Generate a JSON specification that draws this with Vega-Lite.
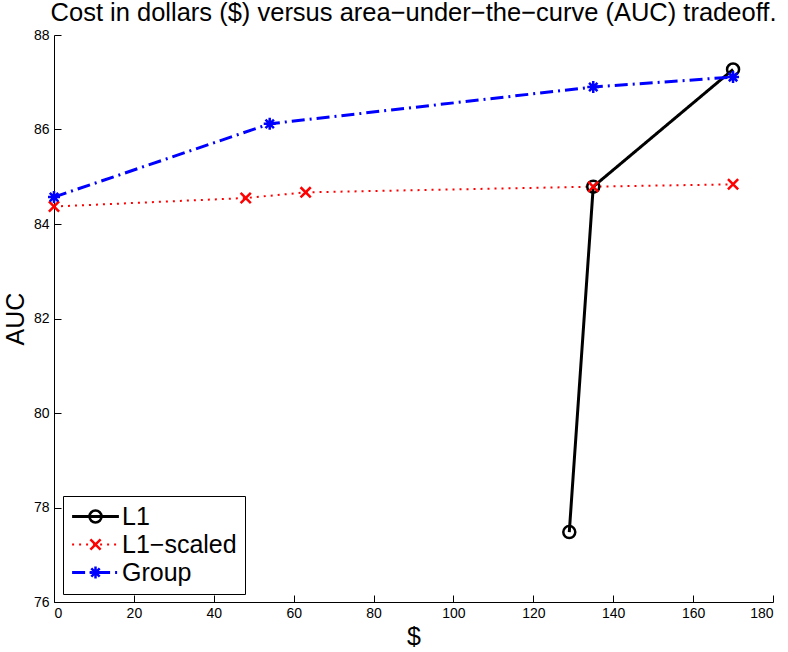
{
  "$schema": "https://vega.github.io/schema/vega-lite/v6.json",
  "width": 719,
  "height": 567,
  "autosize": "none",
  "padding": {"left": 54, "top": 35, "right": 15, "bottom": 50},
  "background": "white",
  "title": {
    "text": "Cost in dollars ($) versus area−under−the−curve (AUC) tradeoff.",
    "font": "Liberation Sans",
    "fontSize": 25.5,
    "fontWeight": "normal",
    "color": "black",
    "anchor": "middle",
    "offset": 2
  },
  "config": {
    "view": {"stroke": null},
    "axis": {
      "grid": false,
      "domainColor": "black",
      "tickColor": "black",
      "tickSize": -7,
      "labelColor": "black",
      "labelFont": "Liberation Sans",
      "labelFontSize": 14,
      "titleColor": "black",
      "titleFont": "Liberation Sans",
      "titleFontSize": 25,
      "titleFontWeight": "normal"
    },
    "legend": {
      "labelFont": "Liberation Sans",
      "labelFontSize": 25,
      "labelColor": "black"
    }
  },
  "data": {
    "values": [
      {"series": "L1", "cost": 129, "auc": 77.48},
      {"series": "L1", "cost": 135, "auc": 84.79},
      {"series": "L1", "cost": 170, "auc": 87.27},
      {"series": "L1−scaled", "cost": 0, "auc": 84.37},
      {"series": "L1−scaled", "cost": 48, "auc": 84.55},
      {"series": "L1−scaled", "cost": 63, "auc": 84.67},
      {"series": "L1−scaled", "cost": 135, "auc": 84.79},
      {"series": "L1−scaled", "cost": 170, "auc": 84.84},
      {"series": "Group", "cost": 0, "auc": 84.57},
      {"series": "Group", "cost": 54, "auc": 86.12},
      {"series": "Group", "cost": 135, "auc": 86.9},
      {"series": "Group", "cost": 170, "auc": 87.11}
    ]
  },
  "encoding": {
    "x": {
      "field": "cost",
      "type": "quantitative",
      "scale": {"domain": [0, 180], "nice": false, "zero": false},
      "axis": {"values": [0, 20, 40, 60, 80, 100, 120, 140, 160, 180], "title": "$", "labelPadding": 11, "titlePadding": 4}
    },
    "y": {
      "field": "auc",
      "type": "quantitative",
      "scale": {"domain": [76, 88], "nice": false, "zero": false},
      "axis": {"values": [76, 78, 80, 82, 84, 86, 88], "title": "AUC", "labelPadding": 12, "titlePadding": 5}
    }
  },
  "layer": [
    {
      "mark": {"type": "line"},
      "encoding": {
        "color": {
          "field": "series",
          "type": "nominal",
          "scale": {"domain": ["L1", "L1−scaled", "Group"], "range": ["#000000", "#ff0000", "#0000ff"]},
          "legend": {
            "orient": "none",
            "legendX": 9,
            "legendY": 461,
            "title": null,
            "symbolType": "M-3.9,0H3.9",
            "symbolSize": 144,
            "symbolOffset": 12,
            "labelOffset": 14,
            "padding": 8
          }
        },
        "strokeDash": {
          "field": "series",
          "type": "nominal",
          "scale": {"domain": ["L1", "L1−scaled", "Group"], "range": [[1, 0], [2, 5], [13, 5, 2, 5]]}
        },
        "strokeWidth": {
          "field": "series",
          "type": "nominal",
          "scale": {"type": "ordinal", "domain": ["L1", "L1−scaled", "Group"], "range": [3, 2, 3]}
        }
      }
    },
    {
      "mark": {"type": "point", "filled": false, "strokeWidth": 2.5, "opacity": 1, "size": 144},
      "encoding": {
        "stroke": {
          "field": "series",
          "type": "nominal",
          "sort": null,
          "scale": {"range": ["#000000", "#ff0000", "#0000ff"]}
        },
        "shape": {
          "field": "series",
          "type": "nominal",
          "sort": null,
          "scale": {"range": ["circle", "M-0.85,-0.85L0.85,0.85M0.85,-0.85L-0.85,0.85", "M-1,0L1,0M0,-1L0,1M-0.7,-0.7L0.7,0.7M0.7,-0.7L-0.7,0.7"]},
          "legend": {
            "orient": "none",
            "legendX": 9,
            "legendY": 461,
            "title": null,
            "symbolSize": 144,
            "symbolStrokeWidth": 2.5,
            "symbolOffset": 12,
            "labelOffset": 14,
            "labelOpacity": 0,
            "padding": 8,
            "strokeColor": "black"
          }
        }
      }
    }
  ]
}
